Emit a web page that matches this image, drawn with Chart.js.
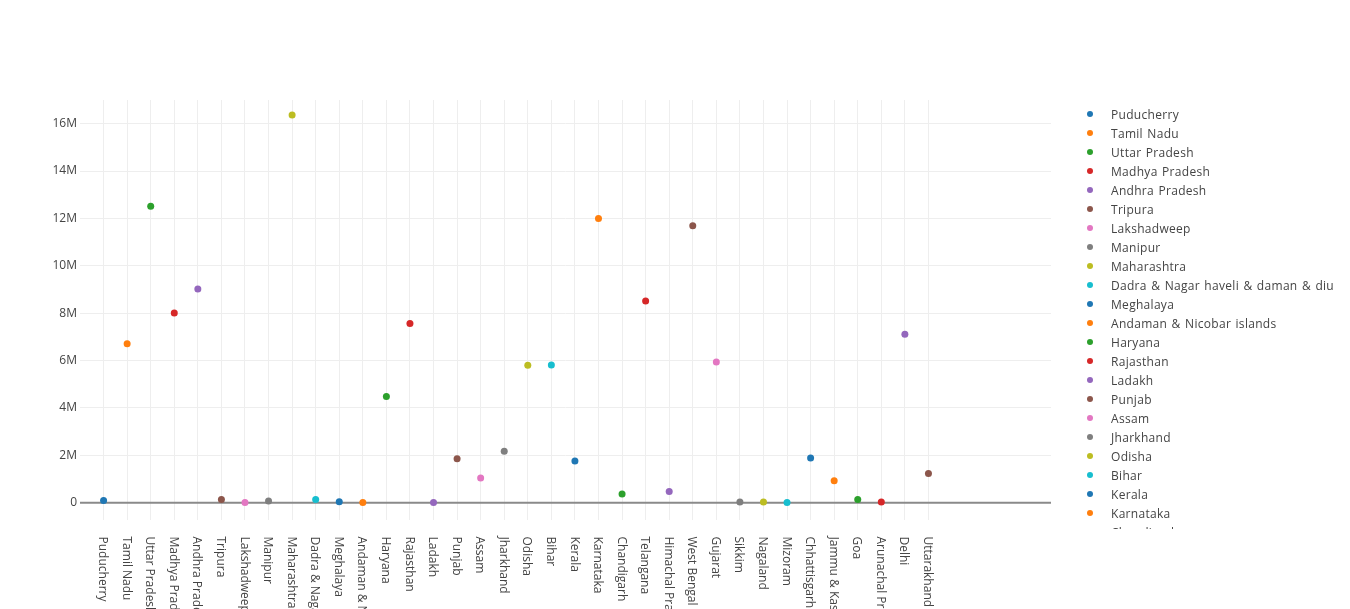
<!DOCTYPE html>
<html>
<head>
<meta charset="utf-8">
<script src="https://cdn.jsdelivr.net/npm/chart.js@4"></script>
<style>
  html, body { margin: 0; padding: 0; background: #fff; }
  #wrap { position: relative; width: 1350px; height: 609px; overflow: hidden; }
  #c { position: absolute; left: 0; top: 0; }
  #legend { position: absolute; left: 1080px; top: 104.5px; width: 270px; height: 424px; overflow: hidden;
            font-family: "Open Sans", sans-serif; font-size: 12px; color: #444;
            letter-spacing: 0.3px; word-spacing: 1px; }
  .row { position: relative; height: 19px; line-height: 19px; white-space: nowrap; }
  .dot { position: absolute; left: 7px; top: 6.5px; width: 6px; height: 6px; border-radius: 50%; }
  .lbl { position: absolute; left: 31px; top: 0; }
</style>
</head>
<body>
<div id="wrap">
  <canvas id="c" width="1350" height="609"></canvas>
  <div id="legend"></div>
</div>
<script>
const categories = ["Puducherry","Tamil Nadu","Uttar Pradesh","Madhya Pradesh","Andhra Pradesh","Tripura","Lakshadweep","Manipur","Maharashtra","Dadra & Nagar haveli & daman & diu","Meghalaya","Andaman & Nicobar islands","Haryana","Rajasthan","Ladakh","Punjab","Assam","Jharkhand","Odisha","Bihar","Kerala","Karnataka","Chandigarh","Telangana","Himachal Pradesh","West Bengal","Gujarat","Sikkim","Nagaland","Mizoram","Chhattisgarh","Jammu & Kashmir","Goa","Arunachal Pradesh","Delhi","Uttarakhand"];
const values = [90000,6710000,12520000,8010000,9020000,140000,10000,70000,16370000,140000,40000,5000,4480000,7570000,5000,1860000,1040000,2170000,5800000,5810000,1760000,12000000,370000,8510000,470000,11690000,5940000,30000,30000,10000,1890000,930000,140000,30000,7110000,1230000];
const yTicks = [0,2000000,4000000,6000000,8000000,10000000,12000000,14000000,16000000];
const yTickLabels = ["0","2M","4M","6M","8M","10M","12M","14M","16M"];

const palette = ["#1f77b4","#ff7f0e","#2ca02c","#d62728","#9467bd","#8c564b","#e377c2","#7f7f7f","#bcbd22","#17becf"];
const FONT = '"Open Sans", sans-serif';

const datasets = categories.map((name, i) => ({
  label: name,
  data: [{x: i, y: values[i]}],
  backgroundColor: palette[i % palette.length],
  borderColor: palette[i % palette.length],
  borderWidth: 0,
  pointRadius: 3.5,
  pointHoverRadius: 4,
  showLine: false
}));

const xLabelsPlugin = {
  id: 'xLabels',
  afterDraw(chart) {
    const ctx = chart.ctx;
    const xs = chart.scales.x;
    ctx.save();
    ctx.font = '12px ' + FONT;
    ctx.fillStyle = '#444';
    ctx.textAlign = 'left';
    ctx.textBaseline = 'middle';
    categories.forEach((name, i) => {
      const px = xs.getPixelForValue(i);
      ctx.save();
      ctx.translate(px - 1, 536.5);
      ctx.rotate(Math.PI / 2);
      ctx.fillText(name, 0, 0);
      ctx.restore();
    });
    ctx.restore();
  }
};

const zeroLinePlugin = {
  id: 'zeroLine',
  beforeDatasetsDraw(chart) {
    const ctx = chart.ctx;
    const ys = chart.scales.y;
    const y = ys.getPixelForValue(0);
    ctx.save();
    ctx.strokeStyle = '#8a8a8a';
    ctx.lineWidth = 2;
    ctx.beginPath();
    ctx.moveTo(chart.chartArea.left, y);
    ctx.lineTo(chart.chartArea.right, y);
    ctx.stroke();
    ctx.restore();
  }
};

new Chart(document.getElementById('c'), {
  type: 'scatter',
  data: { datasets },
  options: {
    responsive: false,
    animation: false,
    events: [],
    layout: { padding: { left: 0, top: 100, right: 299, bottom: 89 } },
    plugins: { legend: { display: false }, tooltip: { enabled: false } },
    scales: {
      x: {
        type: 'linear',
        min: -1,
        max: 40.2,
        afterBuildTicks(s) { s.ticks = categories.map((_, i) => ({ value: i })); },
        afterFit(s) { s.height = 0; },
        ticks: { display: false },
        grid: { color: '#eeeeee', lineWidth: 1, drawTicks: false },
        border: { display: false }
      },
      y: {
        type: 'linear',
        min: -730000,
        max: 17000000,
        afterBuildTicks(s) { s.ticks = yTicks.map(v => ({ value: v })); },
        afterFit(s) { s.width = 80; },
        ticks: {
          padding: 3,
          color: '#444',
          font: { family: FONT, size: 12 },
          callback(v) { const k = yTicks.indexOf(v); return k >= 0 ? yTickLabels[k] : ''; }
        },
        grid: { color: '#eeeeee', lineWidth: 1, drawTicks: false },
        border: { display: false }
      }
    }
  },
  plugins: [zeroLinePlugin, xLabelsPlugin]
});

const legend = document.getElementById('legend');
categories.forEach((name, i) => {
  const row = document.createElement('div');
  row.className = 'row';
  const dot = document.createElement('span');
  dot.className = 'dot';
  dot.style.background = palette[i % palette.length];
  const lbl = document.createElement('span');
  lbl.className = 'lbl';
  lbl.textContent = name;
  row.appendChild(dot);
  row.appendChild(lbl);
  legend.appendChild(row);
});
</script>
</body>
</html>
